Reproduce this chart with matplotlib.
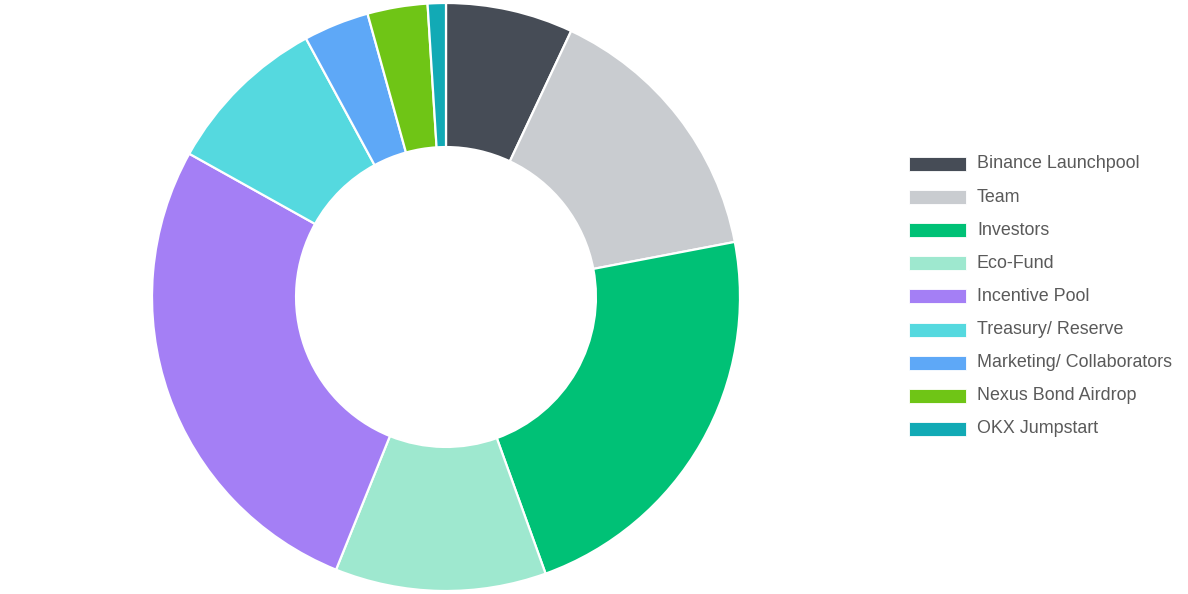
import matplotlib.pyplot as plt
from matplotlib.patches import Rectangle

# ==========================
# Données
# ==========================

labels = [
    "Binance Launchpool",
    "Team",
    "Investors",
    "Eco-Fund",
    "Incentive Pool",
    "Treasury/ Reserve",
    "Marketing/ Collaborators",
    "Nexus Bond Airdrop",
    "OKX Jumpstart",
]
values = [7.0, 15.0, 22.5, 11.6, 27.0, 9.0, 3.6, 3.3, 1.0]
colors = [
    "#464c56", "#c9ccd0", "#00c176", "#9ee8cf", "#a47ff5",
    "#55d9df", "#5ea8f7", "#6fc516", "#12aab5",
]

plt.rcParams["font.family"] = ["Liberation Sans", "DejaVu Sans"]

W, H = 1188, 594
fig = plt.figure(figsize=(W / 100, H / 100), dpi=100)

# ==========================
# Donut
# ==========================

cx, cy, r = 446, 297, 294
half = 300
ax = fig.add_axes([(cx - half) / W, (H - cy - half) / H, 2 * half / W, 2 * half / H])
ax.pie(
    values,
    colors=colors,
    startangle=90,
    counterclock=False,
    radius=1.0,
    wedgeprops=dict(width=0.49, edgecolor="white", linewidth=1.6),
)
lim = half / r
ax.set_xlim(-lim, lim)
ax.set_ylim(-lim, lim)
ax.set_aspect("equal")
ax.axis("off")

# ==========================
# Légende
# ==========================

y0 = 164
step = 33.1
for i, (lab, col) in enumerate(zip(labels, colors)):
    yc = y0 + i * step
    fig.patches.append(
        Rectangle(
            (909 / W, (H - yc - 7) / H), 57 / W, 14 / H,
            transform=fig.transFigure, facecolor=col,
            edgecolor="white", linewidth=0.6,
        )
    )
    fig.text(977 / W, (H - yc) / H, lab, fontsize=12.9, color="#5a5a5a",
             va="center", ha="left")

plt.savefig("out.png", dpi=100)
plt.close()
